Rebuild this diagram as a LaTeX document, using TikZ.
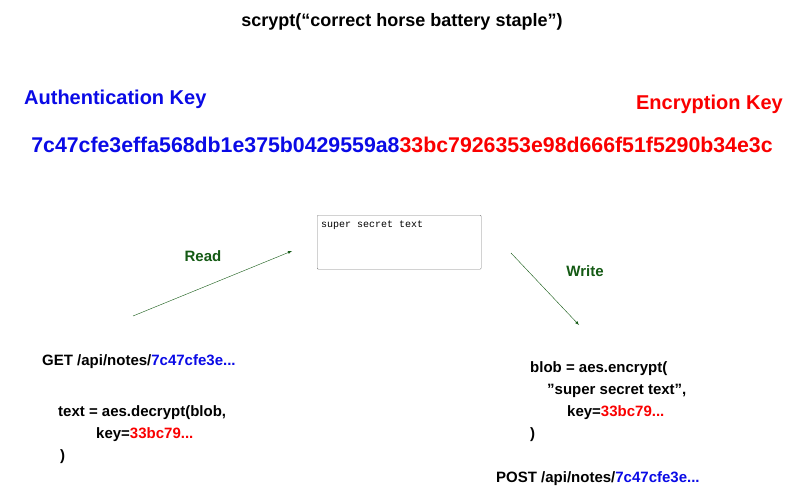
\documentclass[tikz,border=0pt]{standalone}
\usepackage{fontspec}
\setmainfont{Liberation Sans}
\setmonofont{Liberation Mono}
\begin{document}
\begin{tikzpicture}[x=1pt,y=-1pt,
  t/.style={anchor=base west,inner sep=0pt,font=\bfseries\fontsize{15}{18}\selectfont},
  hd/.style={inner sep=0pt,font=\bfseries\fontsize{20}{24}\selectfont},
  lbl/.style={inner sep=0pt,font=\bfseries\fontsize{15}{18}\selectfont,text=darkgreen},
  arr/.style={draw=darkgreen,-latex}]
\definecolor{darkgreen}{RGB}{20,90,20}
\definecolor{kblue}{RGB}{10,10,230}
\definecolor{kred}{RGB}{250,0,0}
\useasboundingbox[fill=white] (0,0) rectangle (800,503);
\node[hd,font=\bfseries\fontsize{18}{22}\selectfont] (title) at (402,22) {scrypt(“correct horse battery staple”)};
\node[hd,anchor=base west,text=kblue] (auth) at (24,104) {Authentication Key};
\node[hd,anchor=base east,text=kred] (enc) at (783,109) {Encryption Key};
\node[hd,anchor=base,font=\bfseries\fontsize{21.3}{25}\selectfont] (key) at (402,152) {\textcolor{kblue}{7c47cfe3effa568db1e375b0429559a8}\textcolor{kred}{33bc7926353e98d666f51f5290b34e3c}};
\node[draw=gray,rounded corners=1pt,minimum width=164pt,minimum height=54pt,anchor=north west] (box) at (317,215) {};
\node[anchor=north west,inner sep=0pt,font=\ttfamily\fontsize{10}{12}\selectfont] (txt) at (321,221) {super secret text};
\coordinate (r1) at (133,316); \coordinate (r2) at (292,251);
\coordinate (w1) at (511,253); \coordinate (w2) at (579,325);
\draw[arr] (r1) -- (r2);
\draw[arr] (w1) -- (w2);
\node[lbl] (read) at (203,256) {Read};
\node[lbl] (write) at (585,271) {Write};
\node[t] (g1) at (42,365) {GET /api/notes/\textcolor{kblue}{7c47cfe3e...}};
\node[t] (g2) at (58,416) {text = aes.decrypt(blob,};
\node[t] (g3) at (96,438) {key=\textcolor{kred}{33bc79...}};
\node[t] (g4) at (60,460) {)};
\node[t] (p1) at (530,372) {blob = aes.encrypt(};
\node[t] (p2) at (547,394) {”super secret text”,};
\node[t] (p3) at (567,416) {key=\textcolor{kred}{33bc79...}};
\node[t] (p4) at (530,438) {)};
\node[t] (p5) at (496,482) {POST /api/notes/\textcolor{kblue}{7c47cfe3e...}};
\end{tikzpicture}
\end{document}
